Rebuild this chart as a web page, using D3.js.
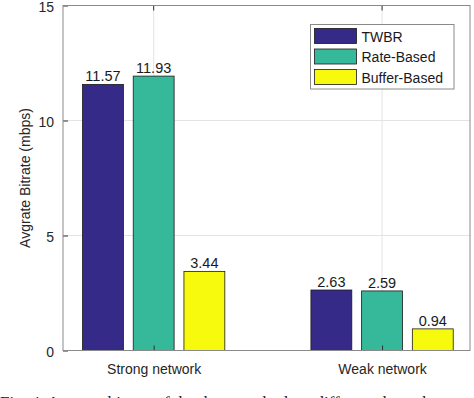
<!DOCTYPE html>
<html>
<head>
<meta charset="utf-8">
<script src="https://cdn.jsdelivr.net/npm/d3@7"></script>
<style>
  body { margin: 0; background: #fff; }
  svg { display: block; }
</style>
</head>
<body>
<div class="chart"></div>
<script>
const groups = ['Strong network', 'Weak network'];
const methods = ['TWBR', 'Rate-Based', 'Buffer-Based'];
const twbr = [11.57, 2.63];
const rateBased = [11.93, 2.59];
const bufferBased = [3.44, 0.94];
const yTicks = [0, 5, 10, 15];
const colors = ['#352a87', '#36b89b', '#f8fa0d'];
const series = [twbr, rateBased, bufferBased];

const width = 474;
const height = 398;
const margin = { top: 5.5, right: 4, bottom: 47.5, left: 63 };
const graphWidth = width - margin.left - margin.right;
const graphHeight = height - margin.top - margin.bottom;

const svg = d3.select('.chart')
  .append('svg')
  .attr('width', width)
  .attr('height', height);

const graph = svg.append('g')
  .attr('transform', `translate(${margin.left}, ${margin.top})`);

// matlab style: groups at 1 and 2, xlim a bit tighter than default
const x = d3.scaleLinear().domain([0.603, 2.385]).range([0, graphWidth]);
const y = d3.scaleLinear().domain([0, 15]).range([graphHeight, 0]);

const barW = 0.179;
const step = 0.222;

// grid
graph.append('g')
  .selectAll('line.hgrid')
  .data(yTicks.slice(1, -1))
  .enter().append('line')
  .attr('x1', 0).attr('x2', graphWidth)
  .attr('y1', d => y(d)).attr('y2', d => y(d))
  .attr('stroke', '#e3e3e3')
  .attr('stroke-width', 1);

graph.append('g')
  .selectAll('line.vgrid')
  .data(groups)
  .enter().append('line')
  .attr('x1', (d, i) => x(i + 1)).attr('x2', (d, i) => x(i + 1))
  .attr('y1', 0).attr('y2', graphHeight)
  .attr('stroke', '#e3e3e3')
  .attr('stroke-width', 1);

// bars
series.forEach((vals, s) => {
  const off = (s - 1) * step;
  graph.append('g')
    .selectAll('rect')
    .data(vals)
    .enter().append('rect')
    .attr('x', (d, i) => x(i + 1 + off - barW / 2))
    .attr('width', x(barW) - x(0))
    .attr('y', d => y(d))
    .attr('height', d => y(0) - y(d))
    .attr('fill', colors[s])
    .attr('stroke', '#1a1a1a')
    .attr('stroke-width', 0.8);

  graph.append('g')
    .selectAll('text')
    .data(vals)
    .enter().append('text')
    .attr('x', (d, i) => x(i + 1 + off))
    .attr('y', d => y(d) - 3)
    .attr('text-anchor', 'middle')
    .attr('font-family', 'Liberation Sans, Arial, sans-serif')
    .attr('font-size', 14.5)
    .attr('fill', '#1a1a1a')
    .text(d => d.toFixed(2));
});

// axes
const yAxis = d3.axisLeft(y).tickValues(yTicks).tickSize(-5).tickPadding(9);
const yAxisGroup = graph.append('g').call(yAxis);
const xAxis = d3.axisBottom(x).tickValues([1, 2]).tickFormat((d) => groups[d - 1]).tickSize(-5).tickPadding(14);
const xAxisGroup = graph.append('g')
  .attr('transform', `translate(0, ${graphHeight})`)
  .call(xAxis);

[yAxisGroup, xAxisGroup].forEach(g => {
  g.select('.domain').remove();
  g.selectAll('line').attr('stroke', '#333');
  g.selectAll('text')
    .attr('font-family', 'Liberation Sans, Arial, sans-serif')
    .attr('font-size', 14)
    .attr('fill', '#262626');
});
yAxisGroup.selectAll('text').attr('dy', '0.45em');

// top ticks
graph.append('g')
  .selectAll('line')
  .data([1, 2])
  .enter().append('line')
  .attr('x1', d => x(d)).attr('x2', d => x(d))
  .attr('y1', 0).attr('y2', 5)
  .attr('stroke', '#333');

graph.append('rect')
  .attr('x', 0).attr('y', 0)
  .attr('width', graphWidth).attr('height', graphHeight)
  .attr('fill', 'none')
  .attr('stroke', '#8a8a8a')
  .attr('stroke-width', 1);

// y label
svg.append('text')
  .attr('transform', `translate(30, ${margin.top + graphHeight / 2}) rotate(-90)`)
  .attr('text-anchor', 'middle')
  .attr('font-family', 'Liberation Sans, Arial, sans-serif')
  .attr('font-size', 14)
  .attr('fill', '#262626')
  .text('Avgrate Bitrate (mbps)');

// legend
const legend = svg.append('g').attr('transform', 'translate(310.5, 24.5)');
legend.append('rect')
  .attr('width', 143.5).attr('height', 64.5)
  .attr('fill', '#fff')
  .attr('stroke', '#8a8a8a');

methods.forEach((m, i) => {
  const row = legend.append('g').attr('transform', `translate(4, ${4 + i * 20.5})`);
  row.append('rect')
    .attr('width', 42).attr('height', 15)
    .attr('fill', colors[i])
    .attr('stroke', '#1a1a1a')
    .attr('stroke-width', 0.8);
  row.append('text')
    .attr('x', 47).attr('y', 13)
    .attr('font-family', 'Liberation Sans, Arial, sans-serif')
    .attr('font-size', 14)
    .attr('fill', '#1a1a1a')
    .text(m);
});

// caption, cut off at the bottom edge
svg.append('text')
  .attr('x', 0).attr('y', 408)
  .attr('font-family', 'Liberation Serif, Times New Roman, serif')
  .attr('font-size', 17)
  .attr('fill', '#222')
  .text('Fig. 4. Average bitrate of the three methods at different throughput');
</script>
</body>
</html>
